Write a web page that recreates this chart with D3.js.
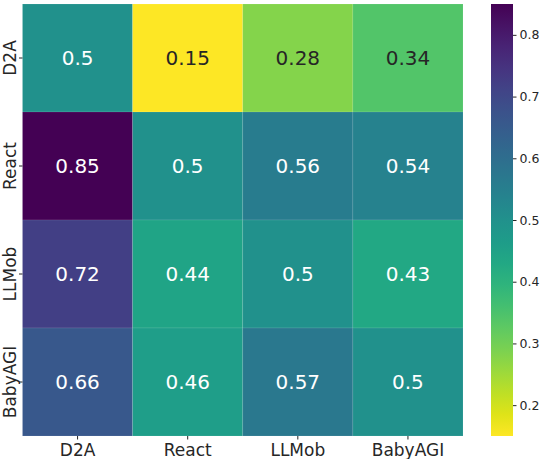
<!DOCTYPE html>
<html lang="en">
<head>
  <meta charset="utf-8">
  <title>Agent comparison heatmap</title>
  <script src="https://d3js.org/d3.v7.min.js"></script>
  <style>
    body { margin: 0; background: #fff; }
    text { font-family: "DejaVu Sans", sans-serif; fill: #262626; }
  </style>
</head>
<body>
<svg width="541" height="459"></svg>
<script>
// data
var rows = ["D2A", "React", "LLMob", "BabyAGI"];
var cols = ["D2A", "React", "LLMob", "BabyAGI"];
var d2aRow     = [0.5, 0.15, 0.28, 0.34];
var reactRow   = [0.85, 0.5, 0.56, 0.54];
var llmobRow   = [0.72, 0.44, 0.5, 0.43];
var babyagiRow = [0.66, 0.46, 0.57, 0.5];
var colorTicks = [0.2, 0.3, 0.4, 0.5, 0.6, 0.7, 0.8];

var matrix = [d2aRow, reactRow, llmobRow, babyagiRow];
var cells = [];
matrix.forEach(function(r, i) {
  r.forEach(function(v, j) { cells.push({row: rows[i], col: cols[j], value: v}); });
});

var svg = d3.select("svg");
// note: "top" is a reserved window property, so use mTop
var mLeft = 22.5, mTop = 4, plotW = 440.5, plotH = 432;

var x = d3.scaleBand().domain(cols).range([mLeft, mLeft + plotW]);
var y = d3.scaleBand().domain(rows).range([mTop, mTop + plotH]);

var vmin = 0.15, vmax = 0.85;
var color = d3.scaleSequential(function(t) { return d3.interpolateViridis(1 - t); })
  .domain([vmin, vmax]);

// same rule as seaborn: dark text when relative luminance > .408
function luminance(c) {
  var rgb = d3.rgb(c);
  var ch = [rgb.r, rgb.g, rgb.b].map(function(v) {
    v = v / 255;
    return v <= 0.03928 ? v / 12.92 : Math.pow((v + 0.055) / 1.055, 2.4);
  });
  return 0.2126 * ch[0] + 0.7152 * ch[1] + 0.0722 * ch[2];
}

var g = svg.append("g");
g.selectAll("rect")
  .data(cells)
  .enter().append("rect")
  .attr("x", function(d) { return x(d.col); })
  .attr("y", function(d) { return y(d.row); })
  .attr("width", x.bandwidth())
  .attr("height", y.bandwidth())
  .attr("fill", function(d) { return color(d.value); })
  .attr("stroke", "rgba(255,255,255,0.12)")
  .attr("stroke-width", 0.8);

g.selectAll("text.annot")
  .data(cells)
  .enter().append("text")
  .attr("class", "annot")
  .attr("x", function(d) { return x(d.col) + x.bandwidth() / 2; })
  .attr("y", function(d) { return y(d.row) + y.bandwidth() / 2; })
  .attr("text-anchor", "middle")
  .attr("dominant-baseline", "central")
  .style("font-size", "20px")
  .style("fill", function(d) {
    return luminance(color(d.value)) > 0.408 ? "#262626" : "#ffffff";
  })
  .text(function(d) { return d.value; });

// x axis
var xAxis = svg.append("g")
  .attr("transform", "translate(0," + (mTop + plotH) + ")")
  .call(d3.axisBottom(x).tickSize(3.5).tickPadding(4));
xAxis.select(".domain").remove();
xAxis.selectAll("line").attr("stroke", "#262626");
xAxis.selectAll("text").style("font-size", "17px").attr("fill", "#262626")
  .style("font-family", "DejaVu Sans, sans-serif");

// y axis
var yAxis = svg.append("g")
  .attr("transform", "translate(" + mLeft + ",0)")
  .call(d3.axisLeft(y).tickSize(3.5).tickPadding(3));
yAxis.select(".domain").remove();
yAxis.selectAll("line").attr("stroke", "#262626");
yAxis.selectAll("text")
  .style("font-size", "17px").attr("fill", "#262626")
  .style("font-family", "DejaVu Sans, sans-serif")
  .attr("text-anchor", "middle")
  .attr("dy", 0)
  .attr("x", 0)
  .attr("dominant-baseline", "auto")
  .attr("transform", "translate(-7,0) rotate(-90)");

// colorbar
var cbX = 491, cbW = 22;
var cy = d3.scaleLinear().domain([vmin, vmax]).range([mTop + plotH, mTop]);
var defs = svg.append("defs");
var grad = defs.append("linearGradient")
  .attr("id", "cbar").attr("x1", 0).attr("y1", 1).attr("x2", 0).attr("y2", 0);
d3.range(0, 1.0001, 0.05).forEach(function(t) {
  grad.append("stop").attr("offset", t).attr("stop-color", color(vmin + t * (vmax - vmin)));
});
svg.append("rect")
  .attr("x", cbX).attr("y", mTop)
  .attr("width", cbW).attr("height", plotH)
  .attr("fill", "url(#cbar)");

var cAxis = svg.append("g")
  .attr("transform", "translate(" + (cbX + cbW) + ",0)")
  .call(d3.axisRight(cy).tickValues(colorTicks).tickFormat(d3.format(".1f")).tickSize(3.5).tickPadding(3));
cAxis.select(".domain").remove();
cAxis.selectAll("line").attr("stroke", "#262626");
cAxis.selectAll("text").style("font-size", "12.5px").attr("fill", "#262626")
  .style("font-family", "DejaVu Sans, sans-serif");
</script>
</body>
</html>
